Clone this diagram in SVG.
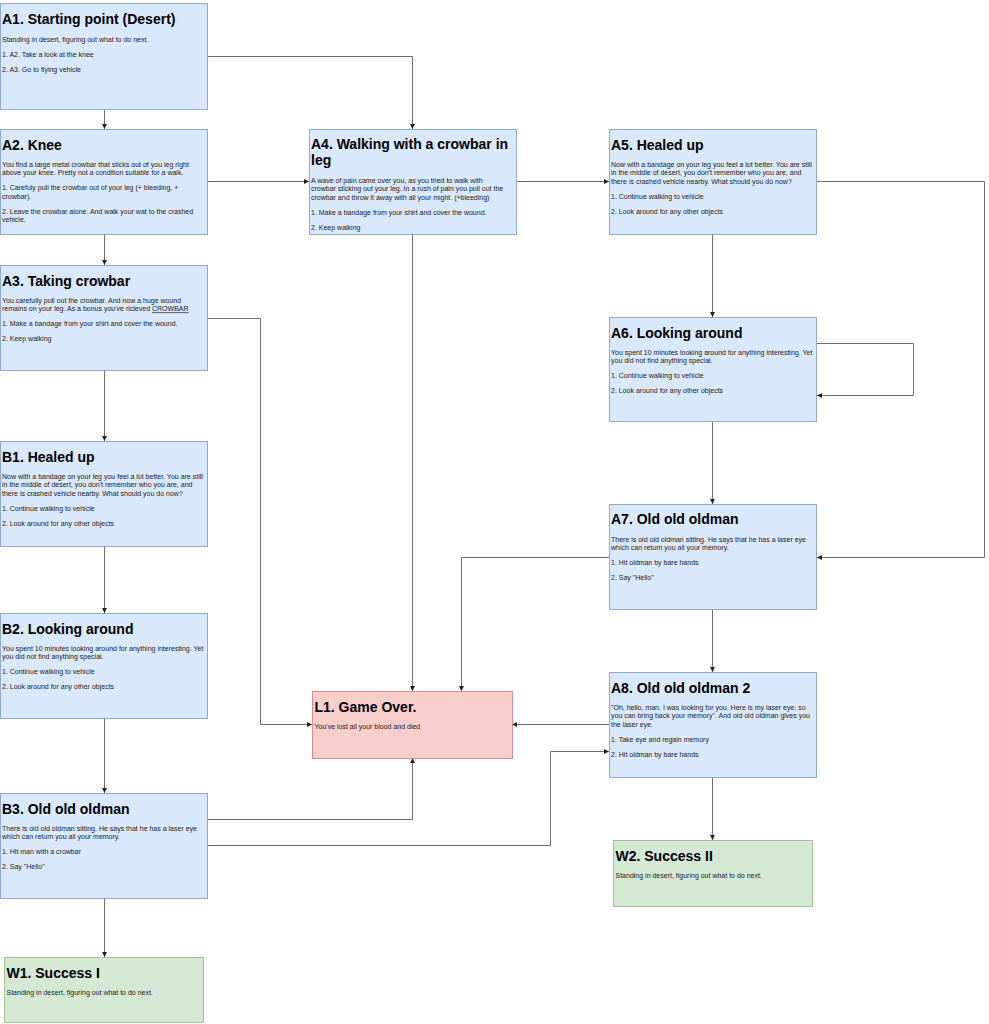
<svg xmlns="http://www.w3.org/2000/svg" width="989" height="1024" viewBox="0 0 989 1024">
<style>
.blue{fill:#dae8fc;stroke:#8fa9cf;stroke-width:1}
.green{fill:#d5e8d4;stroke:#a3c493;stroke-width:1}
.red{fill:#f8cecc;stroke:#d18f8c;stroke-width:1}
.t{font-family:"Liberation Sans",Arial,sans-serif;font-size:14px;font-weight:bold;fill:#000}
.b{font-family:"Liberation Sans",Arial,sans-serif;font-size:7px;fill:#222}
.c{fill:none;stroke:#6e6e6e;stroke-width:1;marker-end:url(#arr)}
</style>
<defs>
<marker id="arr" viewBox="0 0 10 10" refX="10" refY="5" markerWidth="5" markerHeight="5" markerUnits="userSpaceOnUse" orient="auto">
<path d="M0,0 L10,5 L0,10 z" fill="#222"/>
</marker>
</defs>
<rect width="989" height="1024" fill="#fff"/>
<g id="connectors">
<path class="c" d="M104.5,109.5 V129"/>
<path class="c" d="M207.5,56.5 H412.5 V129"/>
<path class="c" d="M104.5,234.5 V265"/>
<path class="c" d="M207.5,181.5 H309"/>
<path class="c" d="M516,181.5 H609"/>
<path class="c" d="M412.5,234.5 V691"/>
<path class="c" d="M104.5,370.5 V441"/>
<path class="c" d="M207.5,318.5 H260.5 V724.5 H312"/>
<path class="c" d="M712.5,234.5 V317"/>
<path class="c" d="M816.5,181.5 H984.5 V557.5 H817"/>
<path class="c" d="M816.5,343.5 H913.5 V395.5 H817"/>
<path class="c" d="M712.5,422 V504"/>
<path class="c" d="M609.5,557.5 H461.5 V691"/>
<path class="c" d="M712.5,609.5 V672"/>
<path class="c" d="M609.5,724.5 H512"/>
<path class="c" d="M712.5,777.5 V840"/>
<path class="c" d="M104.5,546.5 V613"/>
<path class="c" d="M104.5,718.5 V793"/>
<path class="c" d="M207.5,819.5 H412.5 V758"/>
<path class="c" d="M207.5,845.5 H550.5 V751.5 H609"/>
<path class="c" d="M104.5,898.5 V957"/>
</g>
<g id="A1">
<rect class="blue" x="0.5" y="3.5" width="207" height="106"/>
<text class="t" x="2" y="24">A1. Starting point (Desert)</text>
<text class="b" x="2" y="41.5">Standing in desert, figuring out what to do next.</text>
<text class="b" x="2" y="56.5">1. A2. Take a look at the knee</text>
<text class="b" x="2" y="71.5">2. A3. Go to flying vehicle</text>
</g>
<g id="A2">
<rect class="blue" x="0.5" y="129.5" width="207" height="105"/>
<text class="t" x="2" y="149.5">A2. Knee</text>
<text class="b" x="2" y="167">You find a large metal crowbar that sticks out of you leg right</text>
<text class="b" x="2" y="175.4">above your knee. Pretty not a condition suitable for a walk.</text>
<text class="b" x="2" y="190.4">1. Carefuly pull the crowbar out of your leg (+ bleeding, +</text>
<text class="b" x="2" y="198.8">crowbar).</text>
<text class="b" x="2" y="213.8">2. Leave the crowbar alone. And walk your wat to the crashed</text>
<text class="b" x="2" y="222.2">vehicle.</text>
</g>
<g id="A3">
<rect class="blue" x="0.5" y="265.5" width="207" height="105"/>
<text class="t" x="2" y="285.5">A3. Taking crowbar</text>
<text class="b" x="2" y="303">You carefully pull out the crowbar. And now a huge wound</text>
<text class="b" x="2" y="311.4">remains on your leg. As a bonus you've ricleved <tspan text-decoration="underline">CROWBAR</tspan></text>
<text class="b" x="2" y="326.4">1. Make a bandage from your shirt and cover the wound.</text>
<text class="b" x="2" y="341.4">2. Keep walking</text>
</g>
<g id="B1">
<rect class="blue" x="0.5" y="441.5" width="207" height="105"/>
<text class="t" x="2" y="461.5">B1. Healed up</text>
<text class="b" x="2" y="479">Now with a bandage on your leg you feel a lot better. You are still</text>
<text class="b" x="2" y="487.4">in the middle of desert, you don't remember who you are, and</text>
<text class="b" x="2" y="495.8">there is crashed vehicle nearby. What should you do now?</text>
<text class="b" x="2" y="510.8">1. Continue walking to vehicle</text>
<text class="b" x="2" y="525.8">2. Look around for any other objects</text>
</g>
<g id="B2">
<rect class="blue" x="0.5" y="613.5" width="207" height="105"/>
<text class="t" x="2" y="633.5">B2. Looking around</text>
<text class="b" x="2" y="651">You spent 10 minutes looking around for anything interesting. Yet</text>
<text class="b" x="2" y="659.4">you did not find anything special.</text>
<text class="b" x="2" y="674.4">1. Continue walking to vehicle</text>
<text class="b" x="2" y="689.4">2. Look around for any other objects</text>
</g>
<g id="B3">
<rect class="blue" x="0.5" y="793.5" width="207" height="105"/>
<text class="t" x="2" y="813.5">B3. Old old oldman</text>
<text class="b" x="2" y="831">There is old old oldman sitting. He says that he has a laser eye</text>
<text class="b" x="2" y="839.4">which can return you all your memory.</text>
<text class="b" x="2" y="854.4">1. Hit man with a crowbar</text>
<text class="b" x="2" y="869.4">2. Say "Hello"</text>
</g>
<g id="W1">
<rect class="green" x="4.5" y="957.5" width="199" height="65"/>
<text class="t" x="6.5" y="977.5">W1. Success I</text>
<text class="b" x="6.5" y="995">Standing in desert, figuring out what to do next.</text>
</g>
<g id="A4">
<rect class="blue" x="309.5" y="129.5" width="207" height="105"/>
<text class="t" x="311" y="148.5">A4. Walking with a crowbar in</text>
<text class="t" x="311" y="165.3">leg</text>
<text class="b" x="311" y="183">A wave of pain came over you, as you tried to walk with</text>
<text class="b" x="311" y="191.4">crowbar sticking out your leg. In a rush of pain you pull out the</text>
<text class="b" x="311" y="199.8">crowbar and throw it away with all your might. (+bleeding)</text>
<text class="b" x="311" y="214.8">1. Make a bandage from your shirt and cover the wound.</text>
<text class="b" x="311" y="229.8">2. Keep walking</text>
</g>
<g id="A5">
<rect class="blue" x="609.5" y="129.5" width="207" height="105"/>
<text class="t" x="611" y="149.5">A5. Healed up</text>
<text class="b" x="611" y="167">Now with a bandage on your leg you feel a lot better. You are still</text>
<text class="b" x="611" y="175.4">in the middle of desert, you don't remember who you are, and</text>
<text class="b" x="611" y="183.8">there is crashed vehicle nearby. What should you do now?</text>
<text class="b" x="611" y="198.8">1. Continue walking to vehicle</text>
<text class="b" x="611" y="213.8">2. Look around for any other objects</text>
</g>
<g id="A6">
<rect class="blue" x="609.5" y="317.5" width="207" height="104"/>
<text class="t" x="611" y="337.5">A6. Looking around</text>
<text class="b" x="611" y="355">You spent 10 minutes looking around for anything interesting. Yet</text>
<text class="b" x="611" y="363.4">you did not find anything special.</text>
<text class="b" x="611" y="378.4">1. Continue walking to vehicle</text>
<text class="b" x="611" y="393.4">2. Look around for any other objects</text>
</g>
<g id="A7">
<rect class="blue" x="609.5" y="504.5" width="207" height="105"/>
<text class="t" x="611" y="524">A7. Old old oldman</text>
<text class="b" x="611" y="541.5">There is old old oldman sitting. He says that he has a laser eye</text>
<text class="b" x="611" y="549.9">which can return you all your memory.</text>
<text class="b" x="611" y="564.9">1. Hit oldman by bare hands</text>
<text class="b" x="611" y="579.9">2. Say "Hello"</text>
</g>
<g id="A8">
<rect class="blue" x="609.5" y="672.5" width="207" height="105"/>
<text class="t" x="611" y="692.5">A8. Old old oldman 2</text>
<text class="b" x="611" y="710">"Oh, hello, man. I was looking for you. Here is my laser eye, so</text>
<text class="b" x="611" y="718.4">you can bring back your memory". And old old oldman gives you</text>
<text class="b" x="611" y="726.8">the laser eye.</text>
<text class="b" x="611" y="741.8">1. Take eye and regain memory</text>
<text class="b" x="611" y="756.8">2. Hit oldman by bare hands</text>
</g>
<g id="W2">
<rect class="green" x="613.5" y="840.5" width="199" height="66"/>
<text class="t" x="615.5" y="860.5">W2. Success II</text>
<text class="b" x="615.5" y="878">Standing in desert, figuring out what to do next.</text>
</g>
<g id="L1">
<rect class="red" x="312.5" y="691.5" width="200" height="67"/>
<text class="t" x="314.5" y="711.5">L1. Game Over.</text>
<text class="b" x="314.5" y="729">You've lost all your blood and died</text>
</g>
</svg>
